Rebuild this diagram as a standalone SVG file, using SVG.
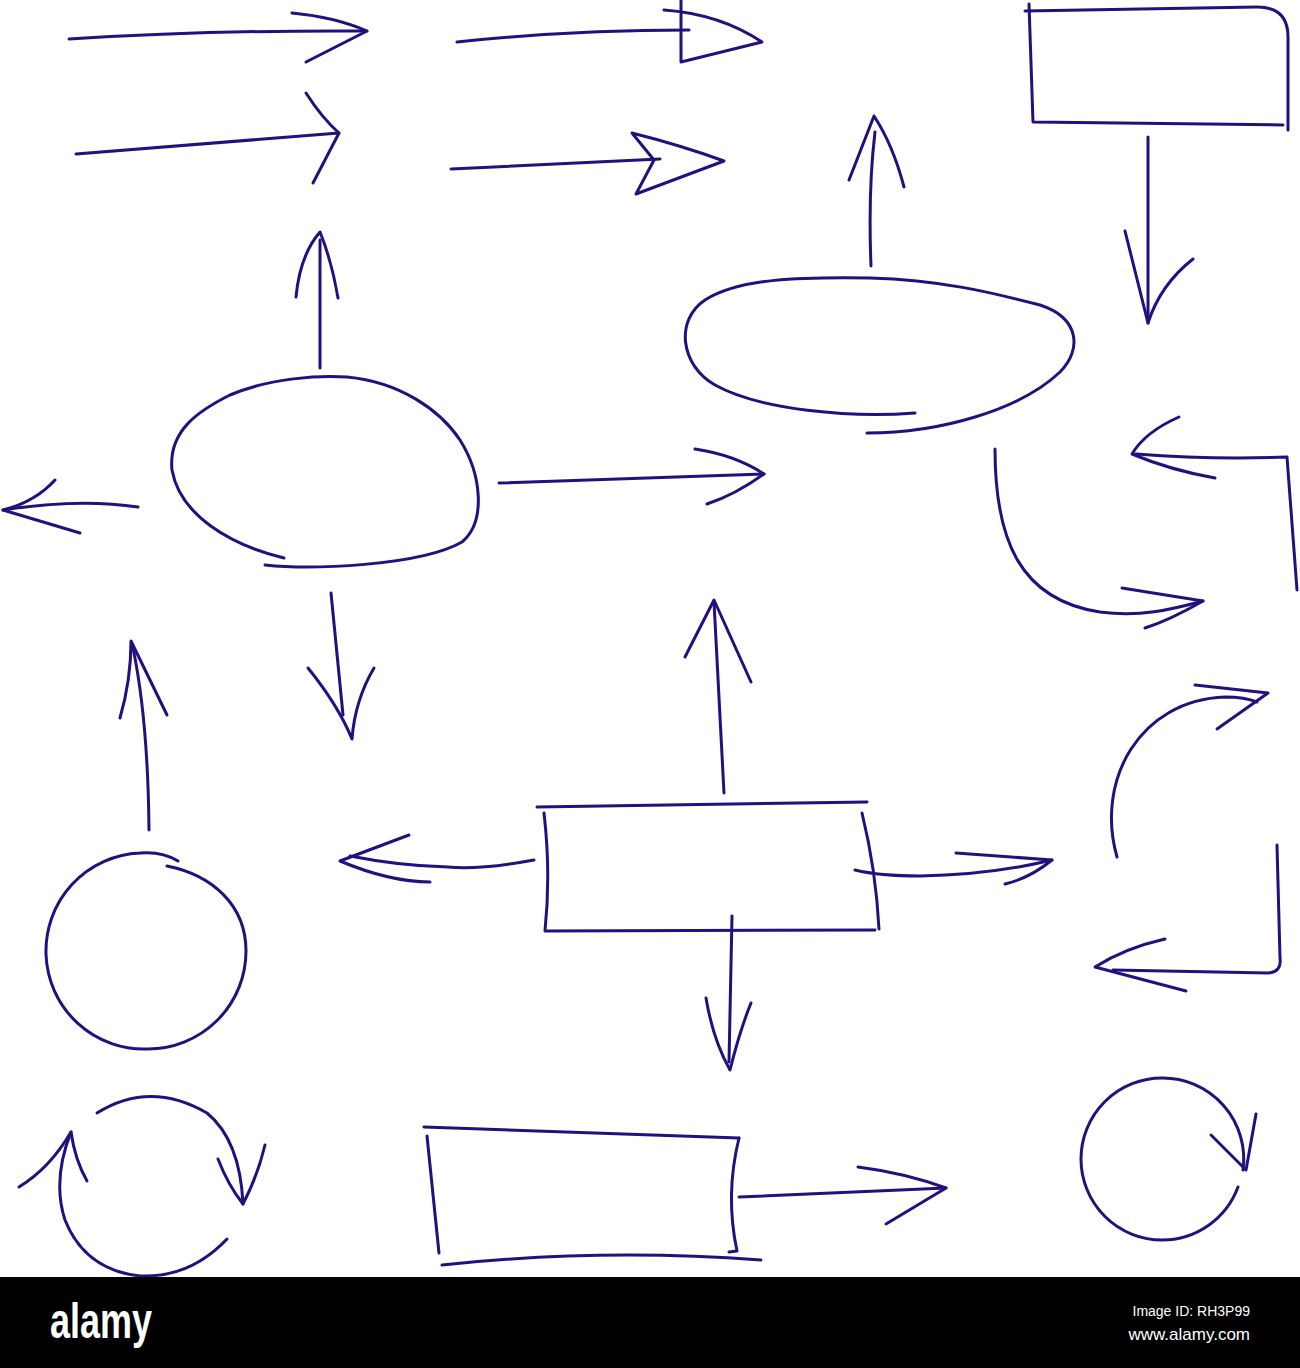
<svg xmlns="http://www.w3.org/2000/svg" width="1300" height="1368" viewBox="0 0 1300 1368">
<style>
.s{fill:none;stroke:#22107f;stroke-width:3;stroke-linecap:round;stroke-linejoin:round}
.t{fill:#fff;font-family:"Liberation Sans",Arial,sans-serif}
</style>
<rect x="0" y="0" width="1300" height="1368" fill="#fff"/>
<g id="rect-top-right" class="s">
<path d="M1025,11 L1257,7 Q1288,7 1288,37 L1288,130"/>
<path d="M1029,4 L1033,122 L1283,125"/>
</g>
<g id="ellipse-top" class="s">
<path d="M915,413 C850,418 760,410 715,385 C680,365 675,320 705,300 C740,278 800,277 870,278 C940,280 990,292 1040,305 C1080,318 1082,350 1060,372 C1020,410 940,433 867,433"/>
</g>
<g id="ellipse-left" class="s">
<path d="M284,558 C230,545 180,515 172,470 C168,430 200,410 230,395 C270,378 320,375 347,377 C400,382 440,410 460,440 C482,475 486,522 462,542 C420,566 310,570 265,565"/>
</g>
<g id="circle-left" class="s">
<path d="M178,861 C165,853 152,852 140,853 A98,98 0 0 0 148,1049 A98,98 0 0 0 246,951 C246,905 212,875 167,866"/>
</g>
<g id="rect-center" class="s">
<path d="M537,807 L867,802"/>
<path d="M544,813 Q551,873 545,931 L875,930"/>
<path d="M862,813 Q876,870 879,929"/>
</g>
<g id="rect-bottom" class="s">
<path d="M424,1127 L739,1138"/>
<path d="M427,1136 L439,1253"/>
<path d="M739,1138 Q725,1195 737,1251 L729,1252"/>
<path d="M442,1265 Q600,1248 761,1260"/>
</g>
<g id="circle-right" class="s">
<path d="M1238,1187 A81,81 0 0 1 1162,1240 A81,81 0 0 1 1081,1159 A81,81 0 0 1 1162,1078 A81,81 0 0 1 1243,1170"/>
</g>
<g id="connectors" class="s">
<path d="M69,39 Q215,30 367,31"/>
<path d="M292,13 Q335,17 367,31 L306,62"/>
<path d="M457,42 Q570,30 689,30"/>
<path d="M681,0 L681,62 L762,42 Q720,14 664,10"/>
<path d="M76,154 L339,133"/>
<path d="M306,93 Q322,118 339,133 L313,183"/>
<path d="M451,169 L660,159"/>
<path d="M654,160 L632,133 Q680,145 724,161 L636,194 L654,160"/>
<path d="M1148,137 L1148,323"/>
<path d="M1125,231 L1148,323 Q1160,285 1193,259"/>
<path d="M871,266 Q868,190 875,132"/>
<path d="M849,180 L874,116 Q893,145 904,187"/>
<path d="M320,368 L320,240"/>
<path d="M296,297 Q300,255 320,232 Q332,262 338,298"/>
<path d="M138,507 Q80,498 3,510"/>
<path d="M55,480 Q35,502 3,510 L80,533"/>
<path d="M499,483 L764,474"/>
<path d="M695,449 Q735,455 764,474 Q735,495 707,504"/>
<path d="M331,593 L343,715"/>
<path d="M308,668 Q338,705 352,739 Q355,700 374,668"/>
<path d="M149,830 Q148,720 133,648"/>
<path d="M120,718 Q131,680 131,641 L167,715"/>
<path d="M995,449 C995,540 1020,600 1100,612 C1140,617 1170,610 1203,601"/>
<path d="M1122,588 L1203,601 Q1170,620 1145,628"/>
<path d="M1297,590 L1287,457 Q1213,460 1136,454"/>
<path d="M1179,417 Q1145,432 1132,454 Q1170,470 1215,478"/>
<path d="M724,793 L714,602"/>
<path d="M685,657 L714,600 L751,682"/>
<path d="M732,916 L729,1062"/>
<path d="M706,998 Q713,1040 730,1070 Q740,1030 751,1003"/>
<path d="M534,860 Q480,870 448,867 Q400,866 350,856"/>
<path d="M409,835 L340,861 Q390,882 430,882"/>
<path d="M855,870 Q880,876 920,876 Q990,875 1052,860"/>
<path d="M956,853 L1052,860 Q1030,878 1005,884"/>
<path d="M1117,857 C1095,780 1140,700 1225,697 Q1245,697 1257,702"/>
<path d="M1195,685 L1268,693 L1217,729"/>
<path d="M1277,845 L1280,958 Q1282,972 1268,973 L1113,970"/>
<path d="M1165,939 Q1125,948 1095,967 L1186,991"/>
<path d="M97,1113 Q150,1080 207,1113 Q240,1140 243,1204"/>
<path d="M218,1159 Q228,1185 243,1204 Q258,1175 265,1145"/>
<path d="M227,1239 Q190,1278 140,1276 Q85,1270 65,1220 Q52,1180 71,1132"/>
<path d="M19,1187 Q50,1168 71,1132 Q75,1160 87,1181"/>
<path d="M739,1197 L946,1188"/>
<path d="M858,1167 Q905,1173 946,1188 L886,1224"/>
<path d="M1211,1135 L1246,1170 L1256,1114"/>
</g>
<g id="footer">
<rect x="0" y="1277" width="1300" height="91" fill="#000"/>
<text class="t" x="50" y="1338" font-size="50" font-weight="bold" textLength="102" lengthAdjust="spacingAndGlyphs">alamy</text>
<text class="t" x="1250" y="1316" font-size="14" text-anchor="end">Image ID: RH3P99</text>
<text class="t" x="1250" y="1340" font-size="17" text-anchor="end">www.alamy.com</text>
</g>
</svg>
